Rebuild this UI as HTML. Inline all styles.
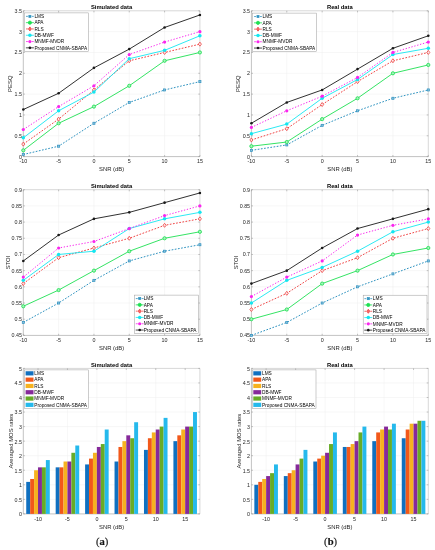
<!DOCTYPE html>
<html><head><meta charset="utf-8"><title>Figure</title>
<style>html,body{margin:0;padding:0;background:#fff}svg{display:block}text{font-family:"Liberation Sans",sans-serif}.cap{font-family:"Liberation Serif",serif}</style>
</head><body>
<svg width="435" height="550" viewBox="0 0 435 550">
<rect width="435" height="550" fill="#fff"/>
<path d="M58.62 10.80V156.60M93.94 10.80V156.60M129.26 10.80V156.60M164.58 10.80V156.60M23.30 135.77H199.90M23.30 114.94H199.90M23.30 94.11H199.90M23.30 73.29H199.90M23.30 52.46H199.90M23.30 31.63H199.90" stroke="#eeeeee" stroke-width="0.5" fill="none"/>
<path d="M23.30 10.80H199.90V156.60" fill="none" stroke="#b0b0b0" stroke-width="0.5"/>
<path d="M23.30 10.80V156.60H199.90" fill="none" stroke="#868686" stroke-width="0.5"/>
<path d="M23.30 156.60v-1.6M23.30 10.80v1.6M58.62 156.60v-1.6M58.62 10.80v1.6M93.94 156.60v-1.6M93.94 10.80v1.6M129.26 156.60v-1.6M129.26 10.80v1.6M164.58 156.60v-1.6M164.58 10.80v1.6M199.90 156.60v-1.6M199.90 10.80v1.6M23.30 156.60h1.6M199.90 156.60h-1.6M23.30 135.77h1.6M199.90 135.77h-1.6M23.30 114.94h1.6M199.90 114.94h-1.6M23.30 94.11h1.6M199.90 94.11h-1.6M23.30 73.29h1.6M199.90 73.29h-1.6M23.30 52.46h1.6M199.90 52.46h-1.6M23.30 31.63h1.6M199.90 31.63h-1.6M23.30 10.80h1.6M199.90 10.80h-1.6" stroke="#8c8c8c" stroke-width="0.5" fill="none"/>
<polyline points="23.30,154.52 58.62,146.19 93.94,123.27 129.26,102.45 164.58,89.95 199.90,81.62" fill="none" stroke="#2f93c0" stroke-width="1.0" stroke-dasharray="1.7 1.5"/>
<rect x="22.25" y="153.47" width="2.1" height="2.1" fill="#8fc0dc" stroke="#2f93c0" stroke-width="0.7"/>
<rect x="57.57" y="145.14" width="2.1" height="2.1" fill="#8fc0dc" stroke="#2f93c0" stroke-width="0.7"/>
<rect x="92.89" y="122.22" width="2.1" height="2.1" fill="#8fc0dc" stroke="#2f93c0" stroke-width="0.7"/>
<rect x="128.21" y="101.40" width="2.1" height="2.1" fill="#8fc0dc" stroke="#2f93c0" stroke-width="0.7"/>
<rect x="163.53" y="88.90" width="2.1" height="2.1" fill="#8fc0dc" stroke="#2f93c0" stroke-width="0.7"/>
<rect x="198.85" y="80.57" width="2.1" height="2.1" fill="#8fc0dc" stroke="#2f93c0" stroke-width="0.7"/>
<polyline points="23.30,150.35 58.62,123.27 93.94,106.61 129.26,85.78 164.58,60.79 199.90,52.46" fill="none" stroke="#1ee052" stroke-width="0.9"/>
<circle cx="23.30" cy="150.35" r="1.6" fill="#a8f2bd" stroke="#1ee052" stroke-width="0.85"/>
<circle cx="58.62" cy="123.27" r="1.6" fill="#a8f2bd" stroke="#1ee052" stroke-width="0.85"/>
<circle cx="93.94" cy="106.61" r="1.6" fill="#a8f2bd" stroke="#1ee052" stroke-width="0.85"/>
<circle cx="129.26" cy="85.78" r="1.6" fill="#a8f2bd" stroke="#1ee052" stroke-width="0.85"/>
<circle cx="164.58" cy="60.79" r="1.6" fill="#a8f2bd" stroke="#1ee052" stroke-width="0.85"/>
<circle cx="199.90" cy="52.46" r="1.6" fill="#a8f2bd" stroke="#1ee052" stroke-width="0.85"/>
<polyline points="23.30,144.10 58.62,119.11 93.94,89.95 129.26,60.79 164.58,52.46 199.90,44.13" fill="none" stroke="#f04444" stroke-width="1.0" stroke-dasharray="1.7 1.5"/>
<path d="M23.30 142.10L24.80 144.10L23.30 146.10L21.80 144.10Z" fill="#fff" fill-opacity="0.75" stroke="#f04444" stroke-width="0.85"/>
<path d="M58.62 117.11L60.12 119.11L58.62 121.11L57.12 119.11Z" fill="#fff" fill-opacity="0.75" stroke="#f04444" stroke-width="0.85"/>
<path d="M93.94 87.95L95.44 89.95L93.94 91.95L92.44 89.95Z" fill="#fff" fill-opacity="0.75" stroke="#f04444" stroke-width="0.85"/>
<path d="M129.26 58.79L130.76 60.79L129.26 62.79L127.76 60.79Z" fill="#fff" fill-opacity="0.75" stroke="#f04444" stroke-width="0.85"/>
<path d="M164.58 50.46L166.08 52.46L164.58 54.46L163.08 52.46Z" fill="#fff" fill-opacity="0.75" stroke="#f04444" stroke-width="0.85"/>
<path d="M199.90 42.13L201.40 44.13L199.90 46.13L198.40 44.13Z" fill="#fff" fill-opacity="0.75" stroke="#f04444" stroke-width="0.85"/>
<polyline points="23.30,137.85 58.62,110.78 93.94,92.03 129.26,58.71 164.58,50.37 199.90,35.79" fill="none" stroke="#14e6f0" stroke-width="0.9"/>
<circle cx="23.30" cy="137.85" r="1.75" fill="#14e6f0"/>
<circle cx="58.62" cy="110.78" r="1.75" fill="#14e6f0"/>
<circle cx="93.94" cy="92.03" r="1.75" fill="#14e6f0"/>
<circle cx="129.26" cy="58.71" r="1.75" fill="#14e6f0"/>
<circle cx="164.58" cy="50.37" r="1.75" fill="#14e6f0"/>
<circle cx="199.90" cy="35.79" r="1.75" fill="#14e6f0"/>
<polyline points="23.30,129.52 58.62,106.61 93.94,85.78 129.26,54.54 164.58,42.04 199.90,31.63" fill="none" stroke="#fa25ee" stroke-width="1.0" stroke-dasharray="1.3 1.7"/>
<circle cx="23.30" cy="129.52" r="1.6" fill="#fa25ee"/>
<circle cx="58.62" cy="106.61" r="1.6" fill="#fa25ee"/>
<circle cx="93.94" cy="85.78" r="1.6" fill="#fa25ee"/>
<circle cx="129.26" cy="54.54" r="1.6" fill="#fa25ee"/>
<circle cx="164.58" cy="42.04" r="1.6" fill="#fa25ee"/>
<circle cx="199.90" cy="31.63" r="1.6" fill="#fa25ee"/>
<polyline points="23.30,109.53 58.62,93.28 93.94,67.87 129.26,49.12 164.58,27.46 199.90,14.97" fill="none" stroke="#1a1a1a" stroke-width="0.9"/>
<circle cx="23.30" cy="109.53" r="1.3" fill="#1a1a1a"/>
<circle cx="58.62" cy="93.28" r="1.3" fill="#1a1a1a"/>
<circle cx="93.94" cy="67.87" r="1.3" fill="#1a1a1a"/>
<circle cx="129.26" cy="49.12" r="1.3" fill="#1a1a1a"/>
<circle cx="164.58" cy="27.46" r="1.3" fill="#1a1a1a"/>
<circle cx="199.90" cy="14.97" r="1.3" fill="#1a1a1a"/>
<g font-size="5.35" fill="#262626">
<text x="23.30" y="163.10" text-anchor="middle">-10</text>
<text x="58.62" y="163.10" text-anchor="middle">-5</text>
<text x="93.94" y="163.10" text-anchor="middle">0</text>
<text x="129.26" y="163.10" text-anchor="middle">5</text>
<text x="164.58" y="163.10" text-anchor="middle">10</text>
<text x="199.90" y="163.10" text-anchor="middle">15</text>
<text x="22.00" y="158.55" text-anchor="end">0</text>
<text x="22.00" y="137.72" text-anchor="end">0.5</text>
<text x="22.00" y="116.89" text-anchor="end">1</text>
<text x="22.00" y="96.06" text-anchor="end">1.5</text>
<text x="22.00" y="75.24" text-anchor="end">2</text>
<text x="22.00" y="54.41" text-anchor="end">2.5</text>
<text x="22.00" y="33.58" text-anchor="end">3</text>
<text x="22.00" y="12.75" text-anchor="end">3.5</text>
</g>
<text x="111.60" y="171.00" text-anchor="middle" font-size="5.9" fill="#262626">SNR (dB)</text>
<text x="111.60" y="8.90" text-anchor="middle" font-size="5.8" font-weight="bold" fill="#000">Simulated data</text>
<text transform="translate(12.30 83.70) rotate(-90)" text-anchor="middle" font-size="5.9" fill="#262626">PESQ</text>
<rect x="24.50" y="12.90" width="63.80" height="38.40" fill="#fff" stroke="#9a9a9a" stroke-width="0.5"/>
<path d="M26.00 16.35h1.9M31.90 16.35h1.9" stroke="#2f93c0" stroke-width="0.8" fill="none"/>
<rect x="28.85" y="15.30" width="2.1" height="2.1" fill="#2f93c0" stroke="#2f93c0" stroke-width="0.7"/>
<text x="34.40" y="18.05" font-size="4.75" fill="#000">LMS</text>
<path d="M25.90 22.65h8.0" stroke="#1ee052" stroke-width="0.8" fill="none"/>
<circle cx="29.90" cy="22.65" r="1.6" fill="#1ee052" stroke="#1ee052" stroke-width="0.85"/>
<text x="34.40" y="24.35" font-size="4.75" fill="#000">APA</text>
<path d="M26.00 28.95h1.9M31.90 28.95h1.9" stroke="#f04444" stroke-width="0.8" fill="none"/>
<path d="M29.90 26.95L31.40 28.95L29.90 30.95L28.40 28.95Z" fill="#f04444" fill-opacity="0.8" stroke="#f04444" stroke-width="0.85"/>
<text x="34.40" y="30.65" font-size="4.75" fill="#000">RLS</text>
<path d="M25.90 35.25h8.0" stroke="#14e6f0" stroke-width="0.8" fill="none"/>
<circle cx="29.90" cy="35.25" r="1.75" fill="#14e6f0"/>
<text x="34.40" y="36.95" font-size="4.75" fill="#000">DB-MWF</text>
<path d="M26.00 41.55h1.9M31.90 41.55h1.9" stroke="#fa25ee" stroke-width="0.8" fill="none"/>
<circle cx="29.90" cy="41.55" r="1.6" fill="#fa25ee"/>
<text x="34.40" y="43.25" font-size="4.75" fill="#000">MNMF-MVDR</text>
<path d="M25.90 47.85h8.0" stroke="#1a1a1a" stroke-width="0.8" fill="none"/>
<circle cx="29.90" cy="47.85" r="1.3" fill="#1a1a1a"/>
<text x="34.40" y="49.55" font-size="4.75" fill="#000">Proposed CNMA-SBAPA</text>
<path d="M286.78 10.80V156.60M322.16 10.80V156.60M357.54 10.80V156.60M392.92 10.80V156.60M251.40 135.77H428.30M251.40 114.94H428.30M251.40 94.11H428.30M251.40 73.29H428.30M251.40 52.46H428.30M251.40 31.63H428.30" stroke="#eeeeee" stroke-width="0.5" fill="none"/>
<path d="M251.40 10.80H428.30V156.60" fill="none" stroke="#b0b0b0" stroke-width="0.5"/>
<path d="M251.40 10.80V156.60H428.30" fill="none" stroke="#868686" stroke-width="0.5"/>
<path d="M251.40 156.60v-1.6M251.40 10.80v1.6M286.78 156.60v-1.6M286.78 10.80v1.6M322.16 156.60v-1.6M322.16 10.80v1.6M357.54 156.60v-1.6M357.54 10.80v1.6M392.92 156.60v-1.6M392.92 10.80v1.6M428.30 156.60v-1.6M428.30 10.80v1.6M251.40 156.60h1.6M428.30 156.60h-1.6M251.40 135.77h1.6M428.30 135.77h-1.6M251.40 114.94h1.6M428.30 114.94h-1.6M251.40 94.11h1.6M428.30 94.11h-1.6M251.40 73.29h1.6M428.30 73.29h-1.6M251.40 52.46h1.6M428.30 52.46h-1.6M251.40 31.63h1.6M428.30 31.63h-1.6M251.40 10.80h1.6M428.30 10.80h-1.6" stroke="#8c8c8c" stroke-width="0.5" fill="none"/>
<polyline points="251.40,150.35 286.78,144.94 322.16,125.36 357.54,110.78 392.92,98.28 428.30,89.95" fill="none" stroke="#2f93c0" stroke-width="1.0" stroke-dasharray="1.7 1.5"/>
<rect x="250.35" y="149.30" width="2.1" height="2.1" fill="#8fc0dc" stroke="#2f93c0" stroke-width="0.7"/>
<rect x="285.73" y="143.89" width="2.1" height="2.1" fill="#8fc0dc" stroke="#2f93c0" stroke-width="0.7"/>
<rect x="321.11" y="124.31" width="2.1" height="2.1" fill="#8fc0dc" stroke="#2f93c0" stroke-width="0.7"/>
<rect x="356.49" y="109.73" width="2.1" height="2.1" fill="#8fc0dc" stroke="#2f93c0" stroke-width="0.7"/>
<rect x="391.87" y="97.23" width="2.1" height="2.1" fill="#8fc0dc" stroke="#2f93c0" stroke-width="0.7"/>
<rect x="427.25" y="88.90" width="2.1" height="2.1" fill="#8fc0dc" stroke="#2f93c0" stroke-width="0.7"/>
<polyline points="251.40,146.19 286.78,142.02 322.16,119.11 357.54,98.28 392.92,73.29 428.30,64.95" fill="none" stroke="#1ee052" stroke-width="0.9"/>
<circle cx="251.40" cy="146.19" r="1.6" fill="#a8f2bd" stroke="#1ee052" stroke-width="0.85"/>
<circle cx="286.78" cy="142.02" r="1.6" fill="#a8f2bd" stroke="#1ee052" stroke-width="0.85"/>
<circle cx="322.16" cy="119.11" r="1.6" fill="#a8f2bd" stroke="#1ee052" stroke-width="0.85"/>
<circle cx="357.54" cy="98.28" r="1.6" fill="#a8f2bd" stroke="#1ee052" stroke-width="0.85"/>
<circle cx="392.92" cy="73.29" r="1.6" fill="#a8f2bd" stroke="#1ee052" stroke-width="0.85"/>
<circle cx="428.30" cy="64.95" r="1.6" fill="#a8f2bd" stroke="#1ee052" stroke-width="0.85"/>
<polyline points="251.40,139.94 286.78,128.69 322.16,104.53 357.54,81.62 392.92,60.79 428.30,52.46" fill="none" stroke="#f04444" stroke-width="1.0" stroke-dasharray="1.7 1.5"/>
<path d="M251.40 137.94L252.90 139.94L251.40 141.94L249.90 139.94Z" fill="#fff" fill-opacity="0.75" stroke="#f04444" stroke-width="0.85"/>
<path d="M286.78 126.69L288.28 128.69L286.78 130.69L285.28 128.69Z" fill="#fff" fill-opacity="0.75" stroke="#f04444" stroke-width="0.85"/>
<path d="M322.16 102.53L323.66 104.53L322.16 106.53L320.66 104.53Z" fill="#fff" fill-opacity="0.75" stroke="#f04444" stroke-width="0.85"/>
<path d="M357.54 79.62L359.04 81.62L357.54 83.62L356.04 81.62Z" fill="#fff" fill-opacity="0.75" stroke="#f04444" stroke-width="0.85"/>
<path d="M392.92 58.79L394.42 60.79L392.92 62.79L391.42 60.79Z" fill="#fff" fill-opacity="0.75" stroke="#f04444" stroke-width="0.85"/>
<path d="M428.30 50.46L429.80 52.46L428.30 54.46L426.80 52.46Z" fill="#fff" fill-opacity="0.75" stroke="#f04444" stroke-width="0.85"/>
<polyline points="251.40,133.69 286.78,124.11 322.16,98.28 357.54,79.53 392.92,54.54 428.30,48.29" fill="none" stroke="#14e6f0" stroke-width="0.9"/>
<circle cx="251.40" cy="133.69" r="1.75" fill="#14e6f0"/>
<circle cx="286.78" cy="124.11" r="1.75" fill="#14e6f0"/>
<circle cx="322.16" cy="98.28" r="1.75" fill="#14e6f0"/>
<circle cx="357.54" cy="79.53" r="1.75" fill="#14e6f0"/>
<circle cx="392.92" cy="54.54" r="1.75" fill="#14e6f0"/>
<circle cx="428.30" cy="48.29" r="1.75" fill="#14e6f0"/>
<polyline points="251.40,127.44 286.78,110.78 322.16,96.20 357.54,77.45 392.92,52.46 428.30,42.04" fill="none" stroke="#fa25ee" stroke-width="1.0" stroke-dasharray="1.3 1.7"/>
<circle cx="251.40" cy="127.44" r="1.6" fill="#fa25ee"/>
<circle cx="286.78" cy="110.78" r="1.6" fill="#fa25ee"/>
<circle cx="322.16" cy="96.20" r="1.6" fill="#fa25ee"/>
<circle cx="357.54" cy="77.45" r="1.6" fill="#fa25ee"/>
<circle cx="392.92" cy="52.46" r="1.6" fill="#fa25ee"/>
<circle cx="428.30" cy="42.04" r="1.6" fill="#fa25ee"/>
<polyline points="251.40,123.27 286.78,102.45 322.16,89.95 357.54,69.12 392.92,48.29 428.30,35.79" fill="none" stroke="#1a1a1a" stroke-width="0.9"/>
<circle cx="251.40" cy="123.27" r="1.3" fill="#1a1a1a"/>
<circle cx="286.78" cy="102.45" r="1.3" fill="#1a1a1a"/>
<circle cx="322.16" cy="89.95" r="1.3" fill="#1a1a1a"/>
<circle cx="357.54" cy="69.12" r="1.3" fill="#1a1a1a"/>
<circle cx="392.92" cy="48.29" r="1.3" fill="#1a1a1a"/>
<circle cx="428.30" cy="35.79" r="1.3" fill="#1a1a1a"/>
<g font-size="5.35" fill="#262626">
<text x="251.40" y="163.10" text-anchor="middle">-10</text>
<text x="286.78" y="163.10" text-anchor="middle">-5</text>
<text x="322.16" y="163.10" text-anchor="middle">0</text>
<text x="357.54" y="163.10" text-anchor="middle">5</text>
<text x="392.92" y="163.10" text-anchor="middle">10</text>
<text x="428.30" y="163.10" text-anchor="middle">15</text>
<text x="250.10" y="158.55" text-anchor="end">0</text>
<text x="250.10" y="137.72" text-anchor="end">0.5</text>
<text x="250.10" y="116.89" text-anchor="end">1</text>
<text x="250.10" y="96.06" text-anchor="end">1.5</text>
<text x="250.10" y="75.24" text-anchor="end">2</text>
<text x="250.10" y="54.41" text-anchor="end">2.5</text>
<text x="250.10" y="33.58" text-anchor="end">3</text>
<text x="250.10" y="12.75" text-anchor="end">3.5</text>
</g>
<text x="339.85" y="171.00" text-anchor="middle" font-size="5.9" fill="#262626">SNR (dB)</text>
<text x="339.85" y="8.90" text-anchor="middle" font-size="5.8" font-weight="bold" fill="#000">Real data</text>
<text transform="translate(240.40 83.70) rotate(-90)" text-anchor="middle" font-size="5.9" fill="#262626">PESQ</text>
<rect x="252.60" y="13.10" width="63.80" height="38.40" fill="#fff" stroke="#9a9a9a" stroke-width="0.5"/>
<path d="M254.10 16.55h1.9M260.00 16.55h1.9" stroke="#2f93c0" stroke-width="0.8" fill="none"/>
<rect x="256.95" y="15.50" width="2.1" height="2.1" fill="#2f93c0" stroke="#2f93c0" stroke-width="0.7"/>
<text x="262.50" y="18.25" font-size="4.75" fill="#000">LMS</text>
<path d="M254.00 22.85h8.0" stroke="#1ee052" stroke-width="0.8" fill="none"/>
<circle cx="258.00" cy="22.85" r="1.6" fill="#1ee052" stroke="#1ee052" stroke-width="0.85"/>
<text x="262.50" y="24.55" font-size="4.75" fill="#000">APA</text>
<path d="M254.10 29.15h1.9M260.00 29.15h1.9" stroke="#f04444" stroke-width="0.8" fill="none"/>
<path d="M258.00 27.15L259.50 29.15L258.00 31.15L256.50 29.15Z" fill="#f04444" fill-opacity="0.8" stroke="#f04444" stroke-width="0.85"/>
<text x="262.50" y="30.85" font-size="4.75" fill="#000">RLS</text>
<path d="M254.00 35.45h8.0" stroke="#14e6f0" stroke-width="0.8" fill="none"/>
<circle cx="258.00" cy="35.45" r="1.75" fill="#14e6f0"/>
<text x="262.50" y="37.15" font-size="4.75" fill="#000">DB-MWF</text>
<path d="M254.10 41.75h1.9M260.00 41.75h1.9" stroke="#fa25ee" stroke-width="0.8" fill="none"/>
<circle cx="258.00" cy="41.75" r="1.6" fill="#fa25ee"/>
<text x="262.50" y="43.45" font-size="4.75" fill="#000">MNMF-MVDR</text>
<path d="M254.00 48.05h8.0" stroke="#1a1a1a" stroke-width="0.8" fill="none"/>
<circle cx="258.00" cy="48.05" r="1.3" fill="#1a1a1a"/>
<text x="262.50" y="49.75" font-size="4.75" fill="#000">Proposed CNMA-SBAPA</text>
<path d="M58.62 189.70V335.40M93.94 189.70V335.40M129.26 189.70V335.40M164.58 189.70V335.40M23.30 319.21H199.90M23.30 303.02H199.90M23.30 286.83H199.90M23.30 270.64H199.90M23.30 254.46H199.90M23.30 238.27H199.90M23.30 222.08H199.90M23.30 205.89H199.90" stroke="#eeeeee" stroke-width="0.5" fill="none"/>
<path d="M23.30 189.70H199.90V335.40" fill="none" stroke="#b0b0b0" stroke-width="0.5"/>
<path d="M23.30 189.70V335.40H199.90" fill="none" stroke="#868686" stroke-width="0.5"/>
<path d="M23.30 335.40v-1.6M23.30 189.70v1.6M58.62 335.40v-1.6M58.62 189.70v1.6M93.94 335.40v-1.6M93.94 189.70v1.6M129.26 335.40v-1.6M129.26 189.70v1.6M164.58 335.40v-1.6M164.58 189.70v1.6M199.90 335.40v-1.6M199.90 189.70v1.6M23.30 335.40h1.6M199.90 335.40h-1.6M23.30 319.21h1.6M199.90 319.21h-1.6M23.30 303.02h1.6M199.90 303.02h-1.6M23.30 286.83h1.6M199.90 286.83h-1.6M23.30 270.64h1.6M199.90 270.64h-1.6M23.30 254.46h1.6M199.90 254.46h-1.6M23.30 238.27h1.6M199.90 238.27h-1.6M23.30 222.08h1.6M199.90 222.08h-1.6M23.30 205.89h1.6M199.90 205.89h-1.6M23.30 189.70h1.6M199.90 189.70h-1.6" stroke="#8c8c8c" stroke-width="0.5" fill="none"/>
<polyline points="23.30,322.45 58.62,303.02 93.94,280.36 129.26,260.93 164.58,251.22 199.90,244.74" fill="none" stroke="#2f93c0" stroke-width="1.0" stroke-dasharray="1.7 1.5"/>
<rect x="22.25" y="321.40" width="2.1" height="2.1" fill="#8fc0dc" stroke="#2f93c0" stroke-width="0.7"/>
<rect x="57.57" y="301.97" width="2.1" height="2.1" fill="#8fc0dc" stroke="#2f93c0" stroke-width="0.7"/>
<rect x="92.89" y="279.31" width="2.1" height="2.1" fill="#8fc0dc" stroke="#2f93c0" stroke-width="0.7"/>
<rect x="128.21" y="259.88" width="2.1" height="2.1" fill="#8fc0dc" stroke="#2f93c0" stroke-width="0.7"/>
<rect x="163.53" y="250.17" width="2.1" height="2.1" fill="#8fc0dc" stroke="#2f93c0" stroke-width="0.7"/>
<rect x="198.85" y="243.69" width="2.1" height="2.1" fill="#8fc0dc" stroke="#2f93c0" stroke-width="0.7"/>
<polyline points="23.30,306.26 58.62,290.07 93.94,270.64 129.26,251.22 164.58,238.27 199.90,231.79" fill="none" stroke="#1ee052" stroke-width="0.9"/>
<circle cx="23.30" cy="306.26" r="1.6" fill="#a8f2bd" stroke="#1ee052" stroke-width="0.85"/>
<circle cx="58.62" cy="290.07" r="1.6" fill="#a8f2bd" stroke="#1ee052" stroke-width="0.85"/>
<circle cx="93.94" cy="270.64" r="1.6" fill="#a8f2bd" stroke="#1ee052" stroke-width="0.85"/>
<circle cx="129.26" cy="251.22" r="1.6" fill="#a8f2bd" stroke="#1ee052" stroke-width="0.85"/>
<circle cx="164.58" cy="238.27" r="1.6" fill="#a8f2bd" stroke="#1ee052" stroke-width="0.85"/>
<circle cx="199.90" cy="231.79" r="1.6" fill="#a8f2bd" stroke="#1ee052" stroke-width="0.85"/>
<polyline points="23.30,283.60 58.62,257.69 93.94,247.98 129.26,238.27 164.58,225.32 199.90,218.84" fill="none" stroke="#f04444" stroke-width="1.0" stroke-dasharray="1.7 1.5"/>
<path d="M23.30 281.60L24.80 283.60L23.30 285.60L21.80 283.60Z" fill="#fff" fill-opacity="0.75" stroke="#f04444" stroke-width="0.85"/>
<path d="M58.62 255.69L60.12 257.69L58.62 259.69L57.12 257.69Z" fill="#fff" fill-opacity="0.75" stroke="#f04444" stroke-width="0.85"/>
<path d="M93.94 245.98L95.44 247.98L93.94 249.98L92.44 247.98Z" fill="#fff" fill-opacity="0.75" stroke="#f04444" stroke-width="0.85"/>
<path d="M129.26 236.27L130.76 238.27L129.26 240.27L127.76 238.27Z" fill="#fff" fill-opacity="0.75" stroke="#f04444" stroke-width="0.85"/>
<path d="M164.58 223.32L166.08 225.32L164.58 227.32L163.08 225.32Z" fill="#fff" fill-opacity="0.75" stroke="#f04444" stroke-width="0.85"/>
<path d="M199.90 216.84L201.40 218.84L199.90 220.84L198.40 218.84Z" fill="#fff" fill-opacity="0.75" stroke="#f04444" stroke-width="0.85"/>
<polyline points="23.30,280.36 58.62,254.46 93.94,251.22 129.26,228.55 164.58,218.84 199.90,212.36" fill="none" stroke="#14e6f0" stroke-width="0.9"/>
<circle cx="23.30" cy="280.36" r="1.75" fill="#14e6f0"/>
<circle cx="58.62" cy="254.46" r="1.75" fill="#14e6f0"/>
<circle cx="93.94" cy="251.22" r="1.75" fill="#14e6f0"/>
<circle cx="129.26" cy="228.55" r="1.75" fill="#14e6f0"/>
<circle cx="164.58" cy="218.84" r="1.75" fill="#14e6f0"/>
<circle cx="199.90" cy="212.36" r="1.75" fill="#14e6f0"/>
<polyline points="23.30,277.12 58.62,247.98 93.94,241.50 129.26,228.55 164.58,215.60 199.90,205.89" fill="none" stroke="#fa25ee" stroke-width="1.0" stroke-dasharray="1.3 1.7"/>
<circle cx="23.30" cy="277.12" r="1.6" fill="#fa25ee"/>
<circle cx="58.62" cy="247.98" r="1.6" fill="#fa25ee"/>
<circle cx="93.94" cy="241.50" r="1.6" fill="#fa25ee"/>
<circle cx="129.26" cy="228.55" r="1.6" fill="#fa25ee"/>
<circle cx="164.58" cy="215.60" r="1.6" fill="#fa25ee"/>
<circle cx="199.90" cy="205.89" r="1.6" fill="#fa25ee"/>
<polyline points="23.30,260.93 58.62,235.03 93.94,218.84 129.26,212.36 164.58,202.65 199.90,192.94" fill="none" stroke="#1a1a1a" stroke-width="0.9"/>
<circle cx="23.30" cy="260.93" r="1.3" fill="#1a1a1a"/>
<circle cx="58.62" cy="235.03" r="1.3" fill="#1a1a1a"/>
<circle cx="93.94" cy="218.84" r="1.3" fill="#1a1a1a"/>
<circle cx="129.26" cy="212.36" r="1.3" fill="#1a1a1a"/>
<circle cx="164.58" cy="202.65" r="1.3" fill="#1a1a1a"/>
<circle cx="199.90" cy="192.94" r="1.3" fill="#1a1a1a"/>
<g font-size="5.35" fill="#262626">
<text x="23.30" y="341.90" text-anchor="middle">-10</text>
<text x="58.62" y="341.90" text-anchor="middle">-5</text>
<text x="93.94" y="341.90" text-anchor="middle">0</text>
<text x="129.26" y="341.90" text-anchor="middle">5</text>
<text x="164.58" y="341.90" text-anchor="middle">10</text>
<text x="199.90" y="341.90" text-anchor="middle">15</text>
<text x="22.00" y="337.35" text-anchor="end">0.45</text>
<text x="22.00" y="321.16" text-anchor="end">0.5</text>
<text x="22.00" y="304.97" text-anchor="end">0.55</text>
<text x="22.00" y="288.78" text-anchor="end">0.6</text>
<text x="22.00" y="272.59" text-anchor="end">0.65</text>
<text x="22.00" y="256.41" text-anchor="end">0.7</text>
<text x="22.00" y="240.22" text-anchor="end">0.75</text>
<text x="22.00" y="224.03" text-anchor="end">0.8</text>
<text x="22.00" y="207.84" text-anchor="end">0.85</text>
<text x="22.00" y="191.65" text-anchor="end">0.9</text>
</g>
<text x="111.60" y="349.80" text-anchor="middle" font-size="5.9" fill="#262626">SNR (dB)</text>
<text x="111.60" y="187.80" text-anchor="middle" font-size="5.8" font-weight="bold" fill="#000">Simulated data</text>
<text transform="translate(9.60 262.55) rotate(-90)" text-anchor="middle" font-size="5.9" fill="#262626">STOI</text>
<rect x="134.60" y="295.10" width="63.80" height="38.40" fill="#fff" stroke="#9a9a9a" stroke-width="0.5"/>
<path d="M135.80 298.55h1.9M141.70 298.55h1.9" stroke="#2f93c0" stroke-width="0.8" fill="none"/>
<rect x="138.65" y="297.50" width="2.1" height="2.1" fill="#2f93c0" stroke="#2f93c0" stroke-width="0.7"/>
<text x="143.70" y="300.25" font-size="4.75" fill="#000">LMS</text>
<path d="M135.70 304.85h8.0" stroke="#1ee052" stroke-width="0.8" fill="none"/>
<circle cx="139.70" cy="304.85" r="1.6" fill="#1ee052" stroke="#1ee052" stroke-width="0.85"/>
<text x="143.70" y="306.55" font-size="4.75" fill="#000">APA</text>
<path d="M135.80 311.15h1.9M141.70 311.15h1.9" stroke="#f04444" stroke-width="0.8" fill="none"/>
<path d="M139.70 309.15L141.20 311.15L139.70 313.15L138.20 311.15Z" fill="#f04444" fill-opacity="0.8" stroke="#f04444" stroke-width="0.85"/>
<text x="143.70" y="312.85" font-size="4.75" fill="#000">RLS</text>
<path d="M135.70 317.45h8.0" stroke="#14e6f0" stroke-width="0.8" fill="none"/>
<circle cx="139.70" cy="317.45" r="1.75" fill="#14e6f0"/>
<text x="143.70" y="319.15" font-size="4.75" fill="#000">DB-MWF</text>
<path d="M135.80 323.75h1.9M141.70 323.75h1.9" stroke="#fa25ee" stroke-width="0.8" fill="none"/>
<circle cx="139.70" cy="323.75" r="1.6" fill="#fa25ee"/>
<text x="143.70" y="325.45" font-size="4.75" fill="#000">MNMF-MVDR</text>
<path d="M135.70 330.05h8.0" stroke="#1a1a1a" stroke-width="0.8" fill="none"/>
<circle cx="139.70" cy="330.05" r="1.3" fill="#1a1a1a"/>
<text x="143.70" y="331.75" font-size="4.75" fill="#000">Proposed CNMA-SBAPA</text>
<path d="M286.78 189.70V335.40M322.16 189.70V335.40M357.54 189.70V335.40M392.92 189.70V335.40M251.40 319.21H428.30M251.40 303.02H428.30M251.40 286.83H428.30M251.40 270.64H428.30M251.40 254.46H428.30M251.40 238.27H428.30M251.40 222.08H428.30M251.40 205.89H428.30" stroke="#eeeeee" stroke-width="0.5" fill="none"/>
<path d="M251.40 189.70H428.30V335.40" fill="none" stroke="#b0b0b0" stroke-width="0.5"/>
<path d="M251.40 189.70V335.40H428.30" fill="none" stroke="#868686" stroke-width="0.5"/>
<path d="M251.40 335.40v-1.6M251.40 189.70v1.6M286.78 335.40v-1.6M286.78 189.70v1.6M322.16 335.40v-1.6M322.16 189.70v1.6M357.54 335.40v-1.6M357.54 189.70v1.6M392.92 335.40v-1.6M392.92 189.70v1.6M428.30 335.40v-1.6M428.30 189.70v1.6M251.40 335.40h1.6M428.30 335.40h-1.6M251.40 319.21h1.6M428.30 319.21h-1.6M251.40 303.02h1.6M428.30 303.02h-1.6M251.40 286.83h1.6M428.30 286.83h-1.6M251.40 270.64h1.6M428.30 270.64h-1.6M251.40 254.46h1.6M428.30 254.46h-1.6M251.40 238.27h1.6M428.30 238.27h-1.6M251.40 222.08h1.6M428.30 222.08h-1.6M251.40 205.89h1.6M428.30 205.89h-1.6M251.40 189.70h1.6M428.30 189.70h-1.6" stroke="#8c8c8c" stroke-width="0.5" fill="none"/>
<polyline points="251.40,335.40 286.78,322.45 322.16,303.02 357.54,286.83 392.92,273.88 428.30,260.93" fill="none" stroke="#2f93c0" stroke-width="1.0" stroke-dasharray="1.7 1.5"/>
<rect x="250.35" y="334.35" width="2.1" height="2.1" fill="#8fc0dc" stroke="#2f93c0" stroke-width="0.7"/>
<rect x="285.73" y="321.40" width="2.1" height="2.1" fill="#8fc0dc" stroke="#2f93c0" stroke-width="0.7"/>
<rect x="321.11" y="301.97" width="2.1" height="2.1" fill="#8fc0dc" stroke="#2f93c0" stroke-width="0.7"/>
<rect x="356.49" y="285.78" width="2.1" height="2.1" fill="#8fc0dc" stroke="#2f93c0" stroke-width="0.7"/>
<rect x="391.87" y="272.83" width="2.1" height="2.1" fill="#8fc0dc" stroke="#2f93c0" stroke-width="0.7"/>
<rect x="427.25" y="259.88" width="2.1" height="2.1" fill="#8fc0dc" stroke="#2f93c0" stroke-width="0.7"/>
<polyline points="251.40,319.21 286.78,309.50 322.16,283.60 357.54,270.64 392.92,254.46 428.30,247.98" fill="none" stroke="#1ee052" stroke-width="0.9"/>
<circle cx="251.40" cy="319.21" r="1.6" fill="#a8f2bd" stroke="#1ee052" stroke-width="0.85"/>
<circle cx="286.78" cy="309.50" r="1.6" fill="#a8f2bd" stroke="#1ee052" stroke-width="0.85"/>
<circle cx="322.16" cy="283.60" r="1.6" fill="#a8f2bd" stroke="#1ee052" stroke-width="0.85"/>
<circle cx="357.54" cy="270.64" r="1.6" fill="#a8f2bd" stroke="#1ee052" stroke-width="0.85"/>
<circle cx="392.92" cy="254.46" r="1.6" fill="#a8f2bd" stroke="#1ee052" stroke-width="0.85"/>
<circle cx="428.30" cy="247.98" r="1.6" fill="#a8f2bd" stroke="#1ee052" stroke-width="0.85"/>
<polyline points="251.40,309.50 286.78,293.31 322.16,270.64 357.54,257.69 392.92,238.27 428.30,228.55" fill="none" stroke="#f04444" stroke-width="1.0" stroke-dasharray="1.7 1.5"/>
<path d="M251.40 307.50L252.90 309.50L251.40 311.50L249.90 309.50Z" fill="#fff" fill-opacity="0.75" stroke="#f04444" stroke-width="0.85"/>
<path d="M286.78 291.31L288.28 293.31L286.78 295.31L285.28 293.31Z" fill="#fff" fill-opacity="0.75" stroke="#f04444" stroke-width="0.85"/>
<path d="M322.16 268.64L323.66 270.64L322.16 272.64L320.66 270.64Z" fill="#fff" fill-opacity="0.75" stroke="#f04444" stroke-width="0.85"/>
<path d="M357.54 255.69L359.04 257.69L357.54 259.69L356.04 257.69Z" fill="#fff" fill-opacity="0.75" stroke="#f04444" stroke-width="0.85"/>
<path d="M392.92 236.27L394.42 238.27L392.92 240.27L391.42 238.27Z" fill="#fff" fill-opacity="0.75" stroke="#f04444" stroke-width="0.85"/>
<path d="M428.30 226.55L429.80 228.55L428.30 230.55L426.80 228.55Z" fill="#fff" fill-opacity="0.75" stroke="#f04444" stroke-width="0.85"/>
<polyline points="251.40,303.02 286.78,280.36 322.16,267.41 357.54,251.22 392.92,231.79 428.30,222.08" fill="none" stroke="#14e6f0" stroke-width="0.9"/>
<circle cx="251.40" cy="303.02" r="1.75" fill="#14e6f0"/>
<circle cx="286.78" cy="280.36" r="1.75" fill="#14e6f0"/>
<circle cx="322.16" cy="267.41" r="1.75" fill="#14e6f0"/>
<circle cx="357.54" cy="251.22" r="1.75" fill="#14e6f0"/>
<circle cx="392.92" cy="231.79" r="1.75" fill="#14e6f0"/>
<circle cx="428.30" cy="222.08" r="1.75" fill="#14e6f0"/>
<polyline points="251.40,296.55 286.78,277.12 322.16,260.93 357.54,235.03 392.92,225.32 428.30,218.84" fill="none" stroke="#fa25ee" stroke-width="1.0" stroke-dasharray="1.3 1.7"/>
<circle cx="251.40" cy="296.55" r="1.6" fill="#fa25ee"/>
<circle cx="286.78" cy="277.12" r="1.6" fill="#fa25ee"/>
<circle cx="322.16" cy="260.93" r="1.6" fill="#fa25ee"/>
<circle cx="357.54" cy="235.03" r="1.6" fill="#fa25ee"/>
<circle cx="392.92" cy="225.32" r="1.6" fill="#fa25ee"/>
<circle cx="428.30" cy="218.84" r="1.6" fill="#fa25ee"/>
<polyline points="251.40,283.60 286.78,270.64 322.16,247.98 357.54,228.55 392.92,218.84 428.30,209.13" fill="none" stroke="#1a1a1a" stroke-width="0.9"/>
<circle cx="251.40" cy="283.60" r="1.3" fill="#1a1a1a"/>
<circle cx="286.78" cy="270.64" r="1.3" fill="#1a1a1a"/>
<circle cx="322.16" cy="247.98" r="1.3" fill="#1a1a1a"/>
<circle cx="357.54" cy="228.55" r="1.3" fill="#1a1a1a"/>
<circle cx="392.92" cy="218.84" r="1.3" fill="#1a1a1a"/>
<circle cx="428.30" cy="209.13" r="1.3" fill="#1a1a1a"/>
<g font-size="5.35" fill="#262626">
<text x="251.40" y="341.90" text-anchor="middle">-10</text>
<text x="286.78" y="341.90" text-anchor="middle">-5</text>
<text x="322.16" y="341.90" text-anchor="middle">0</text>
<text x="357.54" y="341.90" text-anchor="middle">5</text>
<text x="392.92" y="341.90" text-anchor="middle">10</text>
<text x="428.30" y="341.90" text-anchor="middle">15</text>
<text x="250.10" y="337.35" text-anchor="end">0.45</text>
<text x="250.10" y="321.16" text-anchor="end">0.5</text>
<text x="250.10" y="304.97" text-anchor="end">0.55</text>
<text x="250.10" y="288.78" text-anchor="end">0.6</text>
<text x="250.10" y="272.59" text-anchor="end">0.65</text>
<text x="250.10" y="256.41" text-anchor="end">0.7</text>
<text x="250.10" y="240.22" text-anchor="end">0.75</text>
<text x="250.10" y="224.03" text-anchor="end">0.8</text>
<text x="250.10" y="207.84" text-anchor="end">0.85</text>
<text x="250.10" y="191.65" text-anchor="end">0.9</text>
</g>
<text x="339.85" y="349.80" text-anchor="middle" font-size="5.9" fill="#262626">SNR (dB)</text>
<text x="339.85" y="187.80" text-anchor="middle" font-size="5.8" font-weight="bold" fill="#000">Real data</text>
<text transform="translate(237.70 262.55) rotate(-90)" text-anchor="middle" font-size="5.9" fill="#262626">STOI</text>
<rect x="363.20" y="295.20" width="63.80" height="38.40" fill="#fff" stroke="#9a9a9a" stroke-width="0.5"/>
<path d="M364.40 298.65h1.9M370.30 298.65h1.9" stroke="#2f93c0" stroke-width="0.8" fill="none"/>
<rect x="367.25" y="297.60" width="2.1" height="2.1" fill="#2f93c0" stroke="#2f93c0" stroke-width="0.7"/>
<text x="372.80" y="300.35" font-size="4.75" fill="#000">LMS</text>
<path d="M364.30 304.95h8.0" stroke="#1ee052" stroke-width="0.8" fill="none"/>
<circle cx="368.30" cy="304.95" r="1.6" fill="#1ee052" stroke="#1ee052" stroke-width="0.85"/>
<text x="372.80" y="306.65" font-size="4.75" fill="#000">APA</text>
<path d="M364.40 311.25h1.9M370.30 311.25h1.9" stroke="#f04444" stroke-width="0.8" fill="none"/>
<path d="M368.30 309.25L369.80 311.25L368.30 313.25L366.80 311.25Z" fill="#f04444" fill-opacity="0.8" stroke="#f04444" stroke-width="0.85"/>
<text x="372.80" y="312.95" font-size="4.75" fill="#000">RLS</text>
<path d="M364.30 317.55h8.0" stroke="#14e6f0" stroke-width="0.8" fill="none"/>
<circle cx="368.30" cy="317.55" r="1.75" fill="#14e6f0"/>
<text x="372.80" y="319.25" font-size="4.75" fill="#000">DB-MWF</text>
<path d="M364.40 323.85h1.9M370.30 323.85h1.9" stroke="#fa25ee" stroke-width="0.8" fill="none"/>
<circle cx="368.30" cy="323.85" r="1.6" fill="#fa25ee"/>
<text x="372.80" y="325.55" font-size="4.75" fill="#000">MNMF-MVDR</text>
<path d="M364.30 330.15h8.0" stroke="#1a1a1a" stroke-width="0.8" fill="none"/>
<circle cx="368.30" cy="330.15" r="1.3" fill="#1a1a1a"/>
<text x="372.80" y="331.85" font-size="4.75" fill="#000">Proposed CNMA-SBAPA</text>
<path d="M38.02 368.40V513.90M67.45 368.40V513.90M96.88 368.40V513.90M126.32 368.40V513.90M155.75 368.40V513.90M185.18 368.40V513.90M23.30 499.35H199.90M23.30 484.80H199.90M23.30 470.25H199.90M23.30 455.70H199.90M23.30 441.15H199.90M23.30 426.60H199.90M23.30 412.05H199.90M23.30 397.50H199.90M23.30 382.95H199.90" stroke="#eeeeee" stroke-width="0.5" fill="none"/>
<path d="M23.30 368.40H199.90V513.90" fill="none" stroke="#b0b0b0" stroke-width="0.5"/>
<path d="M23.30 368.40V513.90H199.90" fill="none" stroke="#868686" stroke-width="0.5"/>
<path d="M38.02 513.90v-1.6M38.02 368.40v1.6M67.45 513.90v-1.6M67.45 368.40v1.6M96.88 513.90v-1.6M96.88 368.40v1.6M126.32 513.90v-1.6M126.32 368.40v1.6M155.75 513.90v-1.6M155.75 368.40v1.6M185.18 513.90v-1.6M185.18 368.40v1.6M23.30 513.90h1.6M199.90 513.90h-1.6M23.30 499.35h1.6M199.90 499.35h-1.6M23.30 484.80h1.6M199.90 484.80h-1.6M23.30 470.25h1.6M199.90 470.25h-1.6M23.30 455.70h1.6M199.90 455.70h-1.6M23.30 441.15h1.6M199.90 441.15h-1.6M23.30 426.60h1.6M199.90 426.60h-1.6M23.30 412.05h1.6M199.90 412.05h-1.6M23.30 397.50h1.6M199.90 397.50h-1.6M23.30 382.95h1.6M199.90 382.95h-1.6M23.30 368.40h1.6M199.90 368.40h-1.6" stroke="#8c8c8c" stroke-width="0.5" fill="none"/>
<rect x="26.24" y="481.89" width="3.92" height="32.01" fill="#1070c0"/>
<rect x="30.17" y="478.98" width="3.92" height="34.92" fill="#f2581a"/>
<rect x="34.09" y="470.25" width="3.92" height="43.65" fill="#f6b21f"/>
<rect x="38.02" y="467.34" width="3.92" height="46.56" fill="#86299a"/>
<rect x="41.94" y="467.34" width="3.92" height="46.56" fill="#67ac27"/>
<rect x="45.87" y="460.06" width="3.92" height="53.83" fill="#25b9ec"/>
<rect x="55.68" y="467.34" width="3.92" height="46.56" fill="#1070c0"/>
<rect x="59.60" y="467.34" width="3.92" height="46.56" fill="#f2581a"/>
<rect x="63.53" y="461.52" width="3.92" height="52.38" fill="#f6b21f"/>
<rect x="67.45" y="461.52" width="3.92" height="52.38" fill="#86299a"/>
<rect x="71.37" y="452.79" width="3.92" height="61.11" fill="#67ac27"/>
<rect x="75.30" y="445.51" width="3.92" height="68.38" fill="#25b9ec"/>
<rect x="85.11" y="464.43" width="3.92" height="49.47" fill="#1070c0"/>
<rect x="89.03" y="458.61" width="3.92" height="55.29" fill="#f2581a"/>
<rect x="92.96" y="452.79" width="3.92" height="61.11" fill="#f6b21f"/>
<rect x="96.88" y="446.97" width="3.92" height="66.93" fill="#86299a"/>
<rect x="100.81" y="444.06" width="3.92" height="69.84" fill="#67ac27"/>
<rect x="104.73" y="429.51" width="3.92" height="84.39" fill="#25b9ec"/>
<rect x="114.54" y="461.52" width="3.92" height="52.38" fill="#1070c0"/>
<rect x="118.47" y="446.97" width="3.92" height="66.93" fill="#f2581a"/>
<rect x="122.39" y="441.15" width="3.92" height="72.75" fill="#f6b21f"/>
<rect x="126.32" y="435.33" width="3.92" height="78.57" fill="#86299a"/>
<rect x="130.24" y="438.24" width="3.92" height="75.66" fill="#67ac27"/>
<rect x="134.17" y="422.23" width="3.92" height="91.67" fill="#25b9ec"/>
<rect x="143.98" y="449.88" width="3.92" height="64.02" fill="#1070c0"/>
<rect x="147.90" y="438.24" width="3.92" height="75.66" fill="#f2581a"/>
<rect x="151.83" y="432.42" width="3.92" height="81.48" fill="#f6b21f"/>
<rect x="155.75" y="429.51" width="3.92" height="84.39" fill="#86299a"/>
<rect x="159.67" y="426.60" width="3.92" height="87.30" fill="#67ac27"/>
<rect x="163.60" y="417.87" width="3.92" height="96.03" fill="#25b9ec"/>
<rect x="173.41" y="441.15" width="3.92" height="72.75" fill="#1070c0"/>
<rect x="177.33" y="435.33" width="3.92" height="78.57" fill="#f2581a"/>
<rect x="181.26" y="429.51" width="3.92" height="84.39" fill="#f6b21f"/>
<rect x="185.18" y="426.60" width="3.92" height="87.30" fill="#86299a"/>
<rect x="189.11" y="426.60" width="3.92" height="87.30" fill="#67ac27"/>
<rect x="193.03" y="412.05" width="3.92" height="101.85" fill="#25b9ec"/>
<g font-size="5.35" fill="#262626">
<text x="38.02" y="521.30" text-anchor="middle">-10</text>
<text x="67.45" y="521.30" text-anchor="middle">-5</text>
<text x="96.88" y="521.30" text-anchor="middle">0</text>
<text x="126.32" y="521.30" text-anchor="middle">5</text>
<text x="155.75" y="521.30" text-anchor="middle">10</text>
<text x="185.18" y="521.30" text-anchor="middle">15</text>
<text x="22.00" y="516.25" text-anchor="end">0</text>
<text x="22.00" y="501.70" text-anchor="end">0.5</text>
<text x="22.00" y="487.15" text-anchor="end">1</text>
<text x="22.00" y="472.60" text-anchor="end">1.5</text>
<text x="22.00" y="458.05" text-anchor="end">2</text>
<text x="22.00" y="443.50" text-anchor="end">2.5</text>
<text x="22.00" y="428.95" text-anchor="end">3</text>
<text x="22.00" y="414.40" text-anchor="end">3.5</text>
<text x="22.00" y="399.85" text-anchor="end">4</text>
<text x="22.00" y="385.30" text-anchor="end">4.5</text>
<text x="22.00" y="370.75" text-anchor="end">5</text>
</g>
<text x="111.60" y="528.80" text-anchor="middle" font-size="5.9" fill="#262626">SNR (dB)</text>
<text x="111.60" y="366.50" text-anchor="middle" font-size="5.8" font-weight="bold" fill="#000">Simulated data</text>
<text transform="translate(12.70 441.15) rotate(-90)" text-anchor="middle" font-size="5.9" fill="#262626">Averaged MOS rates</text>
<rect x="24.50" y="369.90" width="63.80" height="38.40" fill="#fff" stroke="#9a9a9a" stroke-width="0.5"/>
<rect x="25.60" y="371.25" width="7.9" height="4.2" fill="#1070c0"/>
<text x="34.30" y="375.05" font-size="4.75" fill="#000">LMS</text>
<rect x="25.60" y="377.55" width="7.9" height="4.2" fill="#f2581a"/>
<text x="34.30" y="381.35" font-size="4.75" fill="#000">APA</text>
<rect x="25.60" y="383.85" width="7.9" height="4.2" fill="#f6b21f"/>
<text x="34.30" y="387.65" font-size="4.75" fill="#000">RLS</text>
<rect x="25.60" y="390.15" width="7.9" height="4.2" fill="#86299a"/>
<text x="34.30" y="393.95" font-size="4.75" fill="#000">DB-MWF</text>
<rect x="25.60" y="396.45" width="7.9" height="4.2" fill="#67ac27"/>
<text x="34.30" y="400.25" font-size="4.75" fill="#000">MNMF-MVDR</text>
<rect x="25.60" y="402.75" width="7.9" height="4.2" fill="#25b9ec"/>
<text x="34.30" y="406.55" font-size="4.75" fill="#000">Proposed CNMA-SBAPA</text>
<path d="M266.14 368.40V513.90M295.62 368.40V513.90M325.11 368.40V513.90M354.59 368.40V513.90M384.08 368.40V513.90M413.56 368.40V513.90M251.40 499.35H428.30M251.40 484.80H428.30M251.40 470.25H428.30M251.40 455.70H428.30M251.40 441.15H428.30M251.40 426.60H428.30M251.40 412.05H428.30M251.40 397.50H428.30M251.40 382.95H428.30" stroke="#eeeeee" stroke-width="0.5" fill="none"/>
<path d="M251.40 368.40H428.30V513.90" fill="none" stroke="#b0b0b0" stroke-width="0.5"/>
<path d="M251.40 368.40V513.90H428.30" fill="none" stroke="#868686" stroke-width="0.5"/>
<path d="M266.14 513.90v-1.6M266.14 368.40v1.6M295.62 513.90v-1.6M295.62 368.40v1.6M325.11 513.90v-1.6M325.11 368.40v1.6M354.59 513.90v-1.6M354.59 368.40v1.6M384.08 513.90v-1.6M384.08 368.40v1.6M413.56 513.90v-1.6M413.56 368.40v1.6M251.40 513.90h1.6M428.30 513.90h-1.6M251.40 499.35h1.6M428.30 499.35h-1.6M251.40 484.80h1.6M428.30 484.80h-1.6M251.40 470.25h1.6M428.30 470.25h-1.6M251.40 455.70h1.6M428.30 455.70h-1.6M251.40 441.15h1.6M428.30 441.15h-1.6M251.40 426.60h1.6M428.30 426.60h-1.6M251.40 412.05h1.6M428.30 412.05h-1.6M251.40 397.50h1.6M428.30 397.50h-1.6M251.40 382.95h1.6M428.30 382.95h-1.6M251.40 368.40h1.6M428.30 368.40h-1.6" stroke="#8c8c8c" stroke-width="0.5" fill="none"/>
<rect x="254.35" y="484.80" width="3.93" height="29.10" fill="#1070c0"/>
<rect x="258.28" y="481.89" width="3.93" height="32.01" fill="#f2581a"/>
<rect x="262.21" y="478.98" width="3.93" height="34.92" fill="#f6b21f"/>
<rect x="266.14" y="476.07" width="3.93" height="37.83" fill="#86299a"/>
<rect x="270.07" y="473.16" width="3.93" height="40.74" fill="#67ac27"/>
<rect x="274.00" y="464.43" width="3.93" height="49.47" fill="#25b9ec"/>
<rect x="283.83" y="476.07" width="3.93" height="37.83" fill="#1070c0"/>
<rect x="287.76" y="473.16" width="3.93" height="40.74" fill="#f2581a"/>
<rect x="291.69" y="470.25" width="3.93" height="43.65" fill="#f6b21f"/>
<rect x="295.62" y="464.43" width="3.93" height="49.47" fill="#86299a"/>
<rect x="299.56" y="458.61" width="3.93" height="55.29" fill="#67ac27"/>
<rect x="303.49" y="449.88" width="3.93" height="64.02" fill="#25b9ec"/>
<rect x="313.31" y="461.52" width="3.93" height="52.38" fill="#1070c0"/>
<rect x="317.25" y="458.61" width="3.93" height="55.29" fill="#f2581a"/>
<rect x="321.18" y="455.70" width="3.93" height="58.20" fill="#f6b21f"/>
<rect x="325.11" y="452.79" width="3.93" height="61.11" fill="#86299a"/>
<rect x="329.04" y="444.06" width="3.93" height="69.84" fill="#67ac27"/>
<rect x="332.97" y="432.42" width="3.93" height="81.48" fill="#25b9ec"/>
<rect x="342.80" y="446.97" width="3.93" height="66.93" fill="#1070c0"/>
<rect x="346.73" y="446.97" width="3.93" height="66.93" fill="#f2581a"/>
<rect x="350.66" y="444.06" width="3.93" height="69.84" fill="#f6b21f"/>
<rect x="354.59" y="441.15" width="3.93" height="72.75" fill="#86299a"/>
<rect x="358.52" y="432.42" width="3.93" height="81.48" fill="#67ac27"/>
<rect x="362.45" y="426.60" width="3.93" height="87.30" fill="#25b9ec"/>
<rect x="372.28" y="441.15" width="3.93" height="72.75" fill="#1070c0"/>
<rect x="376.21" y="432.42" width="3.93" height="81.48" fill="#f2581a"/>
<rect x="380.14" y="429.51" width="3.93" height="84.39" fill="#f6b21f"/>
<rect x="384.08" y="426.60" width="3.93" height="87.30" fill="#86299a"/>
<rect x="388.01" y="429.51" width="3.93" height="84.39" fill="#67ac27"/>
<rect x="391.94" y="423.69" width="3.93" height="90.21" fill="#25b9ec"/>
<rect x="401.76" y="438.24" width="3.93" height="75.66" fill="#1070c0"/>
<rect x="405.70" y="429.51" width="3.93" height="84.39" fill="#f2581a"/>
<rect x="409.63" y="423.69" width="3.93" height="90.21" fill="#f6b21f"/>
<rect x="413.56" y="423.69" width="3.93" height="90.21" fill="#86299a"/>
<rect x="417.49" y="420.78" width="3.93" height="93.12" fill="#67ac27"/>
<rect x="421.42" y="420.78" width="3.93" height="93.12" fill="#25b9ec"/>
<g font-size="5.35" fill="#262626">
<text x="266.14" y="521.30" text-anchor="middle">-10</text>
<text x="295.62" y="521.30" text-anchor="middle">-5</text>
<text x="325.11" y="521.30" text-anchor="middle">0</text>
<text x="354.59" y="521.30" text-anchor="middle">5</text>
<text x="384.08" y="521.30" text-anchor="middle">10</text>
<text x="413.56" y="521.30" text-anchor="middle">15</text>
<text x="250.10" y="516.25" text-anchor="end">0</text>
<text x="250.10" y="501.70" text-anchor="end">0.5</text>
<text x="250.10" y="487.15" text-anchor="end">1</text>
<text x="250.10" y="472.60" text-anchor="end">1.5</text>
<text x="250.10" y="458.05" text-anchor="end">2</text>
<text x="250.10" y="443.50" text-anchor="end">2.5</text>
<text x="250.10" y="428.95" text-anchor="end">3</text>
<text x="250.10" y="414.40" text-anchor="end">3.5</text>
<text x="250.10" y="399.85" text-anchor="end">4</text>
<text x="250.10" y="385.30" text-anchor="end">4.5</text>
<text x="250.10" y="370.75" text-anchor="end">5</text>
</g>
<text x="339.85" y="528.80" text-anchor="middle" font-size="5.9" fill="#262626">SNR (dB)</text>
<text x="339.85" y="366.50" text-anchor="middle" font-size="5.8" font-weight="bold" fill="#000">Real data</text>
<text transform="translate(240.80 441.15) rotate(-90)" text-anchor="middle" font-size="5.9" fill="#262626">Averaged MOS rates</text>
<rect x="252.20" y="369.90" width="63.80" height="38.40" fill="#fff" stroke="#9a9a9a" stroke-width="0.5"/>
<rect x="253.30" y="371.25" width="7.9" height="4.2" fill="#1070c0"/>
<text x="262.00" y="375.05" font-size="4.75" fill="#000">LMS</text>
<rect x="253.30" y="377.55" width="7.9" height="4.2" fill="#f2581a"/>
<text x="262.00" y="381.35" font-size="4.75" fill="#000">APA</text>
<rect x="253.30" y="383.85" width="7.9" height="4.2" fill="#f6b21f"/>
<text x="262.00" y="387.65" font-size="4.75" fill="#000">RLS</text>
<rect x="253.30" y="390.15" width="7.9" height="4.2" fill="#86299a"/>
<text x="262.00" y="393.95" font-size="4.75" fill="#000">DB-MWF</text>
<rect x="253.30" y="396.45" width="7.9" height="4.2" fill="#67ac27"/>
<text x="262.00" y="400.25" font-size="4.75" fill="#000">MNMF-MVDR</text>
<rect x="253.30" y="402.75" width="7.9" height="4.2" fill="#25b9ec"/>
<text x="262.00" y="406.55" font-size="4.75" fill="#000">Proposed CNMA-SBAPA</text>
<text class="cap" x="102.2" y="544.6" text-anchor="middle" font-size="10.6" fill="#111" stroke="#111" stroke-width="0.15">(<tspan font-weight="bold">a</tspan>)</text>
<text class="cap" x="330.6" y="544.6" text-anchor="middle" font-size="10.6" fill="#111" stroke="#111" stroke-width="0.15">(<tspan font-weight="bold">b</tspan>)</text>
</svg></body></html>
